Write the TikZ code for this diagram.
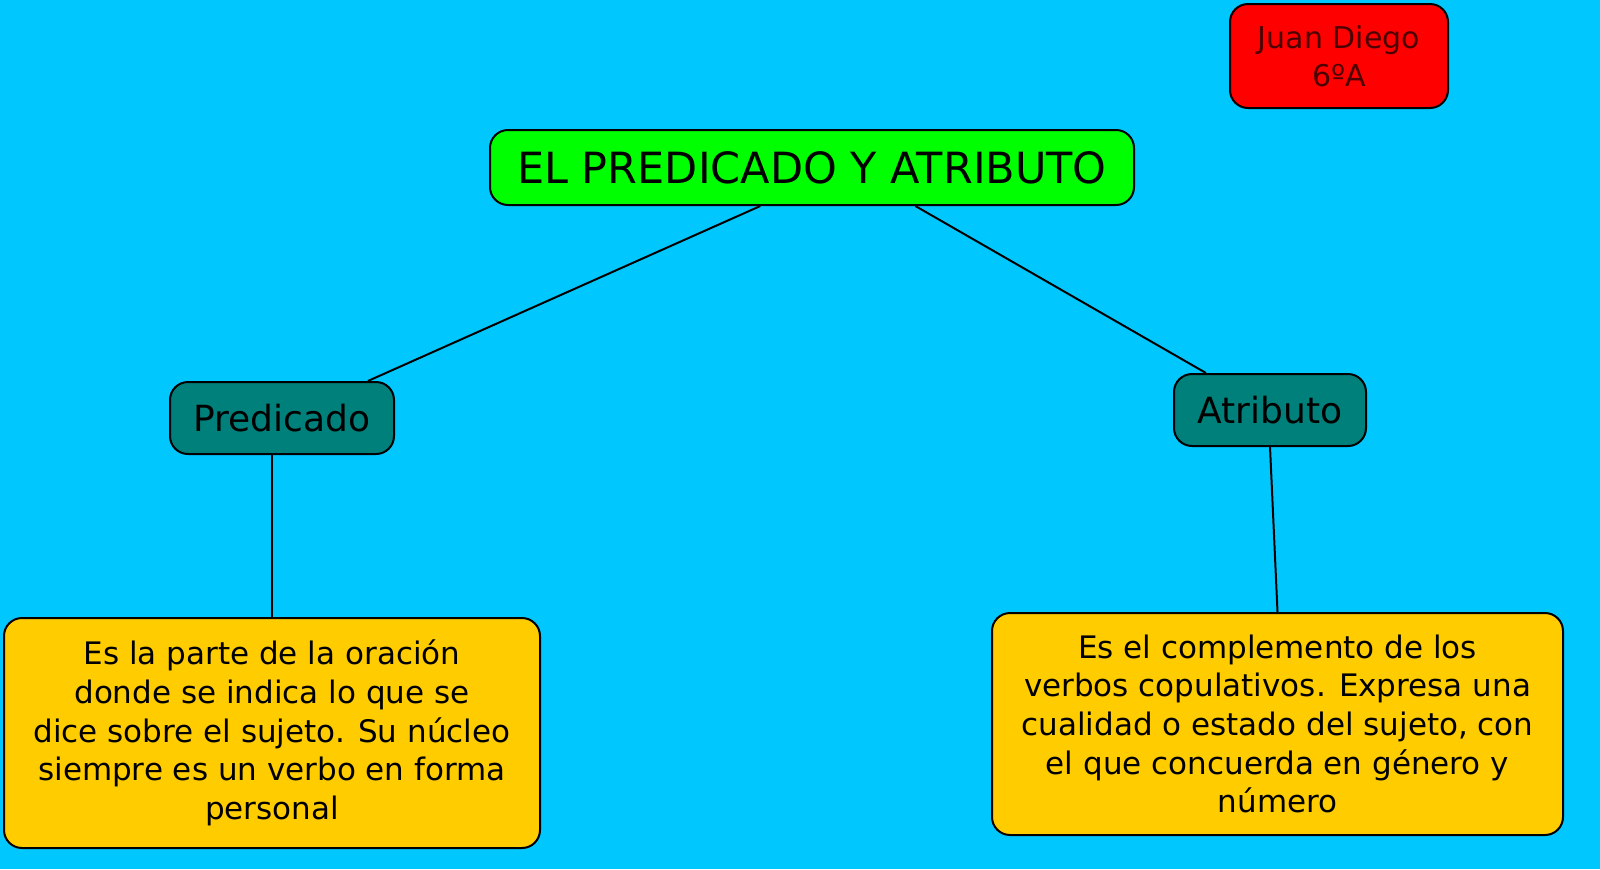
\documentclass[tikz,border=0pt]{standalone}
\usepackage{fontspec}
\setmainfont{DejaVu Sans}
\usetikzlibrary{calc}
\definecolor{bg}{RGB}{0,200,255}
\definecolor{tealc}{RGB}{0,128,122}
\definecolor{yel}{RGB}{255,204,0}
\begin{document}
\begin{tikzpicture}[x=0.5pt,y=-0.5pt,
  box/.style={draw=black,line width=1pt,rounded corners=9pt,inner sep=0pt,align=center},
  conn/.style={line width=1pt}]
\fill[bg] (0,0) rectangle (1600,869);
\useasboundingbox (0,0) rectangle (1600,869);
\node[box,fill=red,minimum width=109pt,minimum height=52pt,font=\fontsize{15}{19}\selectfont,text=black!70!red] (jd) at (1339,56) {Juan Diego\\6ºA};
\node[box,fill=green,minimum width=322pt,minimum height=37.5pt,font=\fontsize{21.5}{24}\selectfont] (title) at (812,167.5) {EL PREDICADO Y ATRIBUTO};
\node[box,fill=tealc,minimum width=112pt,minimum height=36pt,font=\fontsize{18}{20}\selectfont] (pred) at (282,418) {Predicado};
\node[box,fill=tealc,minimum width=96pt,minimum height=36pt,font=\fontsize{18}{20}\selectfont] (atr) at (1270,410) {Atributo};
\node[box,fill=yel,minimum width=268pt,minimum height=115pt,font=\fontsize{15.5}{19.3}\selectfont] (lb) at (272,733) {Es la parte de la oración\\donde se indica lo que se\\dice sobre el sujeto. Su núcleo\\siempre es un verbo en forma\\personal};
\node[box,fill=yel,minimum width=285.5pt,minimum height=111pt,font=\fontsize{15.5}{19.3}\selectfont] (rb) at (1277.5,724) {Es el complemento de los\\verbos copulativos. Expresa una\\cualidad o estado del sujeto, con\\el que concuerda en género y\\número};
\draw[conn] ($(title.south west)!0.42!(title.south east)$) -- ($(pred.north west)!0.88!(pred.north east)$);
\draw[conn] ($(title.south west)!0.66!(title.south east)$) -- ($(atr.north west)!0.17!(atr.north east)$);
\draw[conn] (lb.north |- pred.south) -- (lb.north);
\draw[conn] (atr.south) -- (rb.north);
\end{tikzpicture}
\end{document}
